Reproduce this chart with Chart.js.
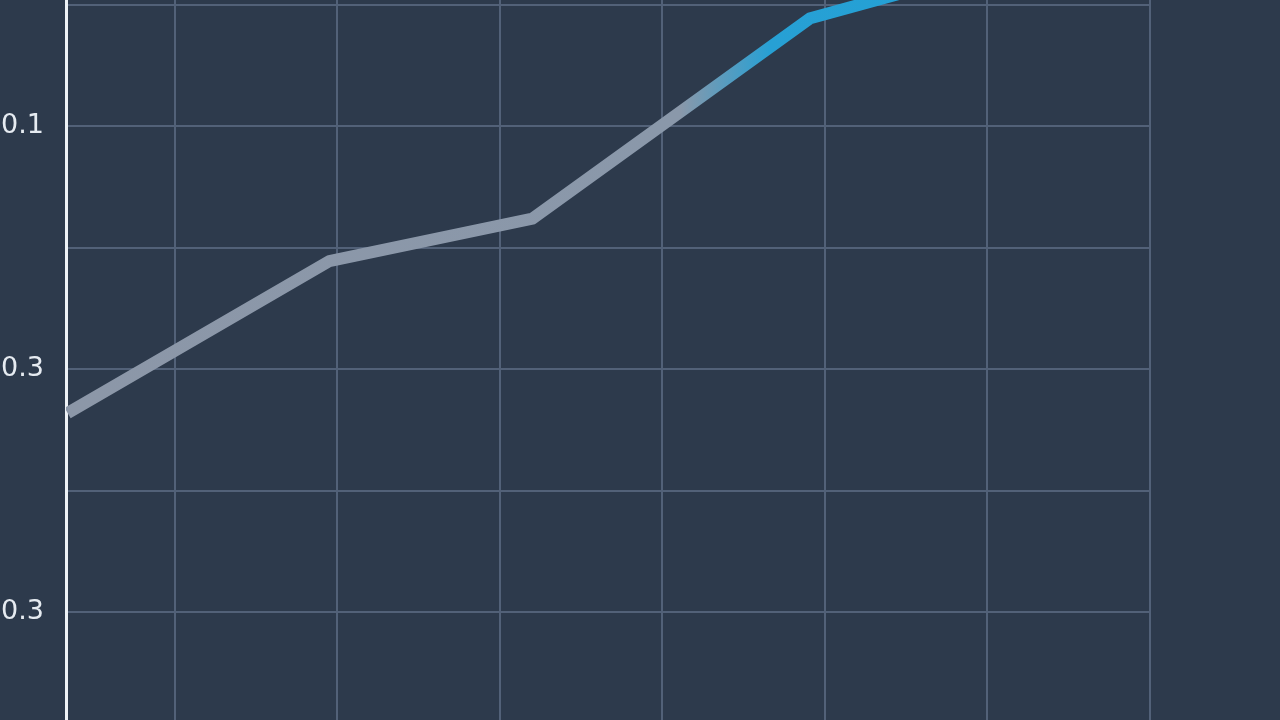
<!DOCTYPE html>
<html>
<head>
<meta charset="utf-8">
<script src="https://cdn.jsdelivr.net/npm/chart.js@4"></script>
<style>
html,body{margin:0;padding:0;background:#2d3a4c;}
#wrap{width:1280px;height:720px;position:relative;}
</style>
</head>
<body>
<div id="wrap"><canvas id="c" width="1280" height="720"></canvas></div>
<script>
// Data
const xValues = [0.34, 1.95, 3.2, 4.91, 6.0];
const yValues = [2.64, 3.89, 4.24, 5.89, 6.29];
const yTickLabels = ['', '0.3', '', '0.3', '', '0.1', ''];
const xGridTicks = [1, 2, 3, 4, 5, 6, 7];
const yGridTicks = [1, 2, 3, 4, 5, 6];

const points = xValues.map((x, i) => ({x: x, y: yValues[i]}));

const bgPlugin = {
  id: 'bg',
  beforeDraw(chart) {
    const ctx = chart.ctx;
    ctx.save();
    ctx.fillStyle = '#2d3a4c';
    ctx.fillRect(0, 0, chart.width, chart.height);
    ctx.restore();
  }
};

function lineGradient(context) {
  const chart = context.chart;
  const area = chart.chartArea;
  if (!area) return '#8c97a8';
  const g = chart.ctx.createLinearGradient(area.left, 0, area.right, 0);
  const w = area.right - area.left;
  g.addColorStop(0, '#8c97a8');
  g.addColorStop((680 - area.left) / w, '#8a98aa');
  g.addColorStop((770 - area.left) / w, '#27a0d4');
  g.addColorStop(1, '#1fa2d8');
  return g;
}

new Chart(document.getElementById('c'), {
  type: 'line',
  data: {
    datasets: [{
      data: points,
      borderColor: lineGradient,
      borderWidth: 12,
      pointRadius: 0,
      tension: 0,
      borderJoinStyle: 'round',
      borderCapStyle: 'butt'
    }]
  },
  plugins: [bgPlugin],
  options: {
    responsive: false,
    animation: false,
    events: [],
    layout: {autoPadding: false, padding: {left: 0, right: 130, top: 0, bottom: 0}},
    plugins: {legend: {display: false}, tooltip: {enabled: false}},
    scales: {
      x: {
        type: 'linear',
        min: 0.33,
        max: 7,
        afterBuildTicks(scale) { scale.ticks = xGridTicks.map(v => ({value: v})); },
        afterFit(scale) { scale.height = 0; scale.paddingLeft = 0; scale.paddingRight = 0; scale.paddingTop = 0; scale.paddingBottom = 0; },
        ticks: {display: false},
        grid: {color: '#526178', lineWidth: 2, drawTicks: false},
        border: {display: false}
      },
      y: {
        type: 'linear',
        min: 0.113,
        max: 6.04,
        afterBuildTicks(scale) { scale.ticks = yGridTicks.map(v => ({value: v})); },
        afterFit(scale) { scale.width = 66; scale.paddingTop = 0; scale.paddingBottom = 0; scale.paddingLeft = 0; scale.paddingRight = 0; },
        ticks: {
          color: '#e6ebf1',
          padding: 22,
          font: {family: 'DejaVu Sans', size: 27},
          callback: (v) => yTickLabels[Math.round(v)] || ''
        },
        grid: {color: '#526178', lineWidth: 2, drawTicks: false},
        border: {display: true, color: '#eef2f6', width: 3}
      }
    }
  }
});
</script>
</body>
</html>
